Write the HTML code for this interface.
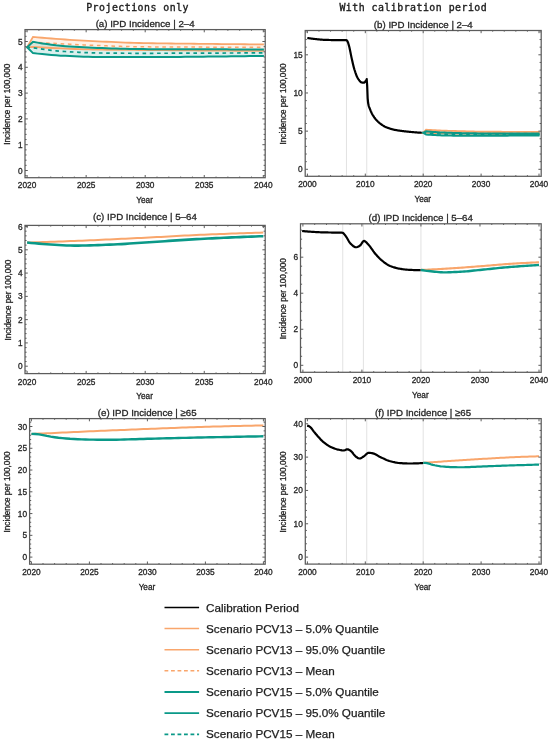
<!DOCTYPE html>
<html><head><meta charset="utf-8"><title>IPD Incidence</title>
<style>
html,body{margin:0;padding:0;background:#fff;}
body{width:550px;height:743px;overflow:hidden;}
svg{display:block;}
text{font-family:"Liberation Sans",sans-serif;fill:#262626;stroke:#262626;stroke-width:0.3px;}
.hd{font-family:"DejaVu Sans Mono","Liberation Mono",monospace;font-size:9.9px;letter-spacing:0.48px;fill:#1a1a1a;stroke:#1a1a1a;stroke-width:0.35px;}
.pt{font-size:9.7px;}
.tk{font-size:8.3px;}
.al{font-size:8.2px;}
.lg{font-size:11.7px;fill:#1c1c1c;stroke:#1c1c1c;stroke-width:0.25px;}
</style></head><body>
<svg width="550" height="743" viewBox="0 0 550 743">
<rect width="550" height="743" fill="#fff"/>
<text class="hd" x="137.6" y="11.4" text-anchor="middle">Projections only</text>
<text class="hd" x="413.3" y="11.4" text-anchor="middle">With calibration period</text>
<path d="M27.10,47.30L33.01,36.90L37.61,37.33L42.22,37.74L46.82,38.14L51.43,38.52L56.03,38.88L60.64,39.21L65.25,39.52L69.85,39.81L74.46,40.09L79.06,40.36L83.67,40.61L88.28,40.86L92.88,41.09L97.49,41.32L102.09,41.53L106.70,41.75L111.31,41.97L115.91,42.18L120.52,42.39L125.12,42.58L129.73,42.75L134.33,42.90L138.94,43.02L143.55,43.11L148.15,43.19L152.76,43.27L157.36,43.33L161.97,43.40L166.58,43.45L171.18,43.51L175.79,43.56L180.39,43.60L185.00,43.65L189.61,43.70L194.21,43.74L198.82,43.79L203.42,43.84L208.03,43.89L212.64,43.94L217.24,43.99L221.85,44.03L226.45,44.08L231.06,44.12L235.66,44.16L240.27,44.21L244.88,44.25L249.48,44.29L254.09,44.33L258.69,44.36L263.30,44.40L263.90,44.40L263.90,50.90L263.30,50.90L258.69,50.88L254.09,50.85L249.48,50.83L244.88,50.80L240.27,50.77L235.66,50.74L231.06,50.71L226.45,50.68L221.85,50.65L217.24,50.62L212.64,50.59L208.03,50.56L203.42,50.53L198.82,50.49L194.21,50.46L189.61,50.42L185.00,50.39L180.39,50.35L175.79,50.31L171.18,50.27L166.58,50.22L161.97,50.18L157.36,50.14L152.76,50.10L148.15,50.06L143.55,50.02L138.94,49.99L134.33,49.96L129.73,49.93L125.12,49.90L120.52,49.87L115.91,49.84L111.31,49.81L106.70,49.77L102.09,49.72L97.49,49.66L92.88,49.57L88.28,49.46L83.67,49.32L79.06,49.16L74.46,49.00L69.85,48.82L65.25,48.63L60.64,48.45L56.03,48.24L51.43,48.01L46.82,47.75L42.22,47.48L37.61,47.20L33.01,46.90L27.10,47.30Z" fill="#F9A66C" fill-opacity="0.16" stroke="none"/>
<path d="M27.10,47.30L33.01,41.80L37.61,42.61L42.22,43.39L46.82,44.11L51.43,44.76L56.03,45.33L60.64,45.79L65.25,46.16L69.85,46.49L74.46,46.78L79.06,47.05L83.67,47.29L88.28,47.51L92.88,47.71L97.49,47.89L102.09,48.07L106.70,48.23L111.31,48.40L115.91,48.56L120.52,48.71L125.12,48.84L129.73,48.95L134.33,49.03L138.94,49.09L143.55,49.12L148.15,49.14L152.76,49.17L157.36,49.18L161.97,49.20L166.58,49.22L171.18,49.23L175.79,49.24L180.39,49.25L185.00,49.26L189.61,49.27L194.21,49.29L198.82,49.30L203.42,49.31L208.03,49.32L212.64,49.34L217.24,49.35L221.85,49.36L226.45,49.37L231.06,49.38L235.66,49.39L240.27,49.40L244.88,49.41L249.48,49.42L254.09,49.43L258.69,49.44L263.30,49.45L263.90,49.45L263.90,55.90L263.30,55.90L258.69,55.97L254.09,56.04L249.48,56.11L244.88,56.17L240.27,56.24L235.66,56.30L231.06,56.36L226.45,56.42L221.85,56.47L217.24,56.52L212.64,56.57L208.03,56.62L203.42,56.66L198.82,56.71L194.21,56.75L189.61,56.79L185.00,56.83L180.39,56.88L175.79,56.92L171.18,56.96L166.58,56.99L161.97,57.02L157.36,57.05L152.76,57.07L148.15,57.09L143.55,57.10L138.94,57.10L134.33,57.10L129.73,57.09L125.12,57.08L120.52,57.07L115.91,57.06L111.31,57.05L106.70,57.03L102.09,57.01L97.49,56.98L92.88,56.91L88.28,56.80L83.67,56.66L79.06,56.49L74.46,56.30L69.85,56.09L65.25,55.86L60.64,55.63L56.03,55.34L51.43,54.98L46.82,54.57L42.22,54.11L37.61,53.62L33.01,53.10L27.10,47.30Z" fill="#0A9988" fill-opacity="0.15" stroke="none"/>
<path d="M263.90,50.90L263.30,50.90L258.69,50.88L254.09,50.85L249.48,50.83L244.88,50.80L240.27,50.77L235.66,50.74L231.06,50.71L226.45,50.68L221.85,50.65L217.24,50.62L212.64,50.59L208.03,50.56L203.42,50.53L198.82,50.49L194.21,50.46L189.61,50.42L185.00,50.39L180.39,50.35L175.79,50.31L171.18,50.27L166.58,50.22L161.97,50.18L157.36,50.14L152.76,50.10L148.15,50.06L143.55,50.02L138.94,49.99L134.33,49.96L129.73,49.93L125.12,49.90L120.52,49.87L115.91,49.84L111.31,49.81L106.70,49.77L102.09,49.72L97.49,49.66L92.88,49.57L88.28,49.46L83.67,49.32L79.06,49.16L74.46,49.00L69.85,48.82L65.25,48.63L60.64,48.45L56.03,48.24L51.43,48.01L46.82,47.75L42.22,47.48L37.61,47.20L33.01,46.90L27.10,47.30L27.10,47.30L33.01,36.90L37.61,37.33L42.22,37.74L46.82,38.14L51.43,38.52L56.03,38.88L60.64,39.21L65.25,39.52L69.85,39.81L74.46,40.09L79.06,40.36L83.67,40.61L88.28,40.86L92.88,41.09L97.49,41.32L102.09,41.53L106.70,41.75L111.31,41.97L115.91,42.18L120.52,42.39L125.12,42.58L129.73,42.75L134.33,42.90L138.94,43.02L143.55,43.11L148.15,43.19L152.76,43.27L157.36,43.33L161.97,43.40L166.58,43.45L171.18,43.51L175.79,43.56L180.39,43.60L185.00,43.65L189.61,43.70L194.21,43.74L198.82,43.79L203.42,43.84L208.03,43.89L212.64,43.94L217.24,43.99L221.85,44.03L226.45,44.08L231.06,44.12L235.66,44.16L240.27,44.21L244.88,44.25L249.48,44.29L254.09,44.33L258.69,44.36L263.30,44.40L263.90,44.40" fill="none" stroke="#F9A66C" stroke-width="1.8" stroke-linejoin="miter" stroke-miterlimit="6"/>
<path d="M27.10,47.30L33.01,42.20L37.61,42.47L42.22,42.73L46.82,42.99L51.43,43.25L56.03,43.49L60.64,43.73L65.25,43.97L69.85,44.20L74.46,44.44L79.06,44.67L83.67,44.89L88.28,45.10L92.88,45.31L97.49,45.49L102.09,45.67L106.70,45.84L111.31,46.01L115.91,46.18L120.52,46.34L125.12,46.49L129.73,46.61L134.33,46.71L138.94,46.78L143.55,46.83L148.15,46.86L152.76,46.90L157.36,46.92L161.97,46.95L166.58,46.97L171.18,46.99L175.79,47.01L180.39,47.03L185.00,47.05L189.61,47.06L194.21,47.08L198.82,47.10L203.42,47.12L208.03,47.13L212.64,47.15L217.24,47.17L221.85,47.18L226.45,47.20L231.06,47.21L235.66,47.23L240.27,47.24L244.88,47.25L249.48,47.27L254.09,47.28L258.69,47.29L263.30,47.30L263.90,47.30" fill="none" stroke="#F9A66C" stroke-width="1.50" stroke-dasharray="3.6 3.67" stroke-dashoffset="0.9" stroke-linejoin="round"/>
<path d="M263.90,55.90L263.30,55.90L258.69,55.97L254.09,56.04L249.48,56.11L244.88,56.17L240.27,56.24L235.66,56.30L231.06,56.36L226.45,56.42L221.85,56.47L217.24,56.52L212.64,56.57L208.03,56.62L203.42,56.66L198.82,56.71L194.21,56.75L189.61,56.79L185.00,56.83L180.39,56.88L175.79,56.92L171.18,56.96L166.58,56.99L161.97,57.02L157.36,57.05L152.76,57.07L148.15,57.09L143.55,57.10L138.94,57.10L134.33,57.10L129.73,57.09L125.12,57.08L120.52,57.07L115.91,57.06L111.31,57.05L106.70,57.03L102.09,57.01L97.49,56.98L92.88,56.91L88.28,56.80L83.67,56.66L79.06,56.49L74.46,56.30L69.85,56.09L65.25,55.86L60.64,55.63L56.03,55.34L51.43,54.98L46.82,54.57L42.22,54.11L37.61,53.62L33.01,53.10L27.10,47.30L27.10,47.30L33.01,41.80L37.61,42.61L42.22,43.39L46.82,44.11L51.43,44.76L56.03,45.33L60.64,45.79L65.25,46.16L69.85,46.49L74.46,46.78L79.06,47.05L83.67,47.29L88.28,47.51L92.88,47.71L97.49,47.89L102.09,48.07L106.70,48.23L111.31,48.40L115.91,48.56L120.52,48.71L125.12,48.84L129.73,48.95L134.33,49.03L138.94,49.09L143.55,49.12L148.15,49.14L152.76,49.17L157.36,49.18L161.97,49.20L166.58,49.22L171.18,49.23L175.79,49.24L180.39,49.25L185.00,49.26L189.61,49.27L194.21,49.29L198.82,49.30L203.42,49.31L208.03,49.32L212.64,49.34L217.24,49.35L221.85,49.36L226.45,49.37L231.06,49.38L235.66,49.39L240.27,49.40L244.88,49.41L249.48,49.42L254.09,49.43L258.69,49.44L263.30,49.45L263.90,49.45" fill="none" stroke="#0A9988" stroke-width="2.0" stroke-linejoin="miter" stroke-miterlimit="6"/>
<path d="M27.10,47.30L33.01,47.70L37.61,48.42L42.22,49.11L46.82,49.75L51.43,50.32L56.03,50.81L60.64,51.21L65.25,51.52L69.85,51.80L74.46,52.07L79.06,52.31L83.67,52.52L88.28,52.70L92.88,52.85L97.49,52.96L102.09,53.02L106.70,53.08L111.31,53.13L115.91,53.18L120.52,53.22L125.12,53.25L129.73,53.27L134.33,53.29L138.94,53.30L143.55,53.30L148.15,53.29L152.76,53.28L157.36,53.27L161.97,53.26L166.58,53.24L171.18,53.22L175.79,53.20L180.39,53.18L185.00,53.16L189.61,53.14L194.21,53.12L198.82,53.10L203.42,53.09L208.03,53.07L212.64,53.06L217.24,53.04L221.85,53.03L226.45,53.01L231.06,53.00L235.66,52.98L240.27,52.97L244.88,52.96L249.48,52.94L254.09,52.93L258.69,52.91L263.30,52.90L263.90,52.90" fill="none" stroke="#0A9988" stroke-width="1.70" stroke-dasharray="3.6 3.67" stroke-dashoffset="0.6" stroke-linejoin="round"/>
<path d="M27.10,177.70v-2.7M27.10,29.60v2.7M38.91,177.70v-1.15M38.91,29.60v1.15M50.72,177.70v-1.15M50.72,29.60v1.15M62.53,177.70v-1.15M62.53,29.60v1.15M74.34,177.70v-1.15M74.34,29.60v1.15M86.15,177.70v-2.7M86.15,29.60v2.7M97.96,177.70v-1.15M97.96,29.60v1.15M109.77,177.70v-1.15M109.77,29.60v1.15M121.58,177.70v-1.15M121.58,29.60v1.15M133.39,177.70v-1.15M133.39,29.60v1.15M145.20,177.70v-2.7M145.20,29.60v2.7M157.01,177.70v-1.15M157.01,29.60v1.15M168.82,177.70v-1.15M168.82,29.60v1.15M180.63,177.70v-1.15M180.63,29.60v1.15M192.44,177.70v-1.15M192.44,29.60v1.15M204.25,177.70v-2.7M204.25,29.60v2.7M216.06,177.70v-1.15M216.06,29.60v1.15M227.87,177.70v-1.15M227.87,29.60v1.15M239.68,177.70v-1.15M239.68,29.60v1.15M251.49,177.70v-1.15M251.49,29.60v1.15M263.30,177.70v-2.7M263.30,29.60v2.7M25.00,175.66h1.6M265.20,175.66h-1.6M25.00,170.50h2.8M265.20,170.50h-2.8M25.00,165.34h1.6M265.20,165.34h-1.6M25.00,160.18h1.6M265.20,160.18h-1.6M25.00,155.02h1.6M265.20,155.02h-1.6M25.00,149.86h1.6M265.20,149.86h-1.6M25.00,144.70h2.8M265.20,144.70h-2.8M25.00,139.54h1.6M265.20,139.54h-1.6M25.00,134.38h1.6M265.20,134.38h-1.6M25.00,129.22h1.6M265.20,129.22h-1.6M25.00,124.06h1.6M265.20,124.06h-1.6M25.00,118.90h2.8M265.20,118.90h-2.8M25.00,113.74h1.6M265.20,113.74h-1.6M25.00,108.58h1.6M265.20,108.58h-1.6M25.00,103.42h1.6M265.20,103.42h-1.6M25.00,98.26h1.6M265.20,98.26h-1.6M25.00,93.10h2.8M265.20,93.10h-2.8M25.00,87.94h1.6M265.20,87.94h-1.6M25.00,82.78h1.6M265.20,82.78h-1.6M25.00,77.62h1.6M265.20,77.62h-1.6M25.00,72.46h1.6M265.20,72.46h-1.6M25.00,67.30h2.8M265.20,67.30h-2.8M25.00,62.14h1.6M265.20,62.14h-1.6M25.00,56.98h1.6M265.20,56.98h-1.6M25.00,51.82h1.6M265.20,51.82h-1.6M25.00,46.66h1.6M265.20,46.66h-1.6M25.00,41.50h2.8M265.20,41.50h-2.8M25.00,36.34h1.6M265.20,36.34h-1.6M25.00,31.18h1.6M265.20,31.18h-1.6" stroke="#5c5c5c" stroke-width="1.0" fill="none"/>
<rect x="25.00" y="29.60" width="240.20" height="148.10" fill="none" stroke="#5c5c5c" stroke-width="1.25"/>
<text class="tk" x="27.10" y="188.10" text-anchor="middle">2020</text>
<text class="tk" x="86.15" y="188.10" text-anchor="middle">2025</text>
<text class="tk" x="145.20" y="188.10" text-anchor="middle">2030</text>
<text class="tk" x="204.25" y="188.10" text-anchor="middle">2035</text>
<text class="tk" x="263.30" y="188.10" text-anchor="middle">2040</text>
<text class="tk" x="22.50" y="173.50" text-anchor="end">0</text>
<text class="tk" x="22.50" y="147.70" text-anchor="end">1</text>
<text class="tk" x="22.50" y="121.90" text-anchor="end">2</text>
<text class="tk" x="22.50" y="96.10" text-anchor="end">3</text>
<text class="tk" x="22.50" y="70.30" text-anchor="end">4</text>
<text class="tk" x="22.50" y="44.50" text-anchor="end">5</text>
<text class="al" transform="translate(9.50,104.25) rotate(-90)" text-anchor="middle">Incidence per 100,000</text>
<text class="al" x="144.60" y="203.30" text-anchor="middle">Year</text>
<text class="pt" x="145.10" y="26.60" text-anchor="middle">(a) IPD Incidence | 2–4</text>
<path d="M346.48,30.50V176.30" stroke="#dadada" stroke-width="0.8" fill="none"/>
<path d="M366.75,30.50V176.30" stroke="#dadada" stroke-width="0.8" fill="none"/>
<path d="M423.20,30.50V176.30" stroke="#dadada" stroke-width="0.8" fill="none"/>
<path d="M307.30,38.00L307.80,38.07L308.29,38.14L308.79,38.21L309.28,38.28L309.78,38.35L310.27,38.42L310.76,38.49L311.26,38.55L311.75,38.62L312.25,38.68L312.75,38.74L313.24,38.80L313.74,38.86L314.23,38.91L314.73,38.97L315.22,39.02L315.72,39.08L316.21,39.13L316.70,39.19L317.20,39.25L317.69,39.30L318.19,39.35L318.69,39.41L319.18,39.46L319.68,39.51L320.17,39.56L320.67,39.60L321.16,39.64L321.66,39.68L322.15,39.72L322.64,39.75L323.14,39.78L323.63,39.80L324.13,39.82L324.62,39.84L325.12,39.86L325.62,39.88L326.11,39.90L326.61,39.91L327.10,39.93L327.60,39.94L328.09,39.96L328.58,39.97L329.08,39.99L329.57,40.00L330.07,40.01L330.56,40.02L331.06,40.03L331.56,40.04L332.05,40.05L332.55,40.06L333.04,40.07L333.54,40.08L334.03,40.09L334.52,40.09L335.02,40.10L335.51,40.11L336.01,40.11L336.50,40.12L337.00,40.12L337.50,40.12L337.99,40.12L338.49,40.13L338.98,40.13L339.48,40.13L339.97,40.13L340.47,40.13L340.96,40.14L341.45,40.14L341.95,40.14L342.44,40.14L342.94,40.15L343.44,40.15L343.93,40.16L344.43,40.16L344.92,40.17L345.42,40.18L345.91,40.19L346.40,40.20L346.90,40.52L347.39,41.19L347.89,42.20L348.38,43.69L348.88,45.41L349.38,47.25L349.87,49.43L350.37,51.85L350.86,54.38L351.36,56.85L351.85,59.12L352.35,61.29L352.84,63.45L353.33,65.54L353.83,67.49L354.32,69.24L354.82,70.78L355.31,72.27L355.81,73.68L356.31,75.01L356.80,76.23L357.30,77.32L357.79,78.25L358.28,79.02L358.78,79.72L359.27,80.40L359.77,81.03L360.26,81.59L360.76,82.03L361.25,82.35L361.75,82.49L362.25,82.53L362.74,82.56L363.24,82.59L363.73,82.60L364.23,82.56L364.72,82.22L365.21,81.68L365.71,81.05L366.20,80.19L366.70,79.10L366.70,79.10L367.17,85.83L367.64,98.06L368.12,103.05L368.59,105.32L369.06,106.84L369.53,107.97L370.01,109.12L370.48,110.34L370.95,111.47L371.43,112.52L371.90,113.48L372.37,114.37L372.84,115.20L373.31,115.97L373.79,116.68L374.26,117.36L374.73,118.00L375.20,118.62L375.68,119.22L376.15,119.78L376.62,120.32L377.09,120.82L377.57,121.31L378.04,121.77L378.51,122.20L378.99,122.60L379.46,122.99L379.93,123.37L380.40,123.73L380.88,124.09L381.35,124.43L381.82,124.76L382.29,125.08L382.76,125.39L383.24,125.68L383.71,125.96L384.18,126.23L384.65,126.49L385.13,126.73L385.60,126.95L386.07,127.16L386.54,127.36L387.02,127.55L387.49,127.73L387.96,127.91L388.44,128.08L388.91,128.24L389.38,128.40L389.85,128.56L390.32,128.71L390.80,128.85L391.27,128.99L391.74,129.12L392.21,129.25L392.69,129.37L393.16,129.49L393.63,129.60L394.10,129.71L394.58,129.81L395.05,129.91L395.52,130.00L396.00,130.09L396.47,130.18L396.94,130.26L397.41,130.34L397.88,130.42L398.36,130.50L398.83,130.57L399.30,130.64L399.77,130.70L400.25,130.77L400.72,130.83L401.19,130.90L401.66,130.96L402.14,131.02L402.61,131.07L403.08,131.13L403.56,131.19L404.03,131.24L404.50,131.30L404.97,131.35L405.44,131.41L405.92,131.46L406.39,131.51L406.86,131.56L407.33,131.61L407.81,131.66L408.28,131.71L408.75,131.76L409.22,131.81L409.70,131.85L410.17,131.90L410.64,131.94L411.12,131.98L411.59,132.03L412.06,132.07L412.53,132.11L413.00,132.15L413.48,132.19L413.95,132.23L414.42,132.27L414.89,132.31L415.37,132.34L415.84,132.38L416.31,132.42L416.78,132.45L417.26,132.49L417.73,132.53L418.20,132.56L418.67,132.59L419.15,132.63L419.62,132.66L420.09,132.69L420.56,132.72L421.04,132.76L421.51,132.79L421.98,132.82L422.45,132.84L422.93,132.87L423.40,132.90" fill="none" stroke="#000" stroke-width="2.2" stroke-linejoin="round"/>
<path d="M423.20,132.85L426.09,129.77L428.35,129.90L430.61,130.02L432.87,130.14L435.13,130.25L437.39,130.36L439.64,130.46L441.90,130.55L444.16,130.64L446.42,130.72L448.68,130.80L450.93,130.87L453.19,130.95L455.45,131.01L457.71,131.08L459.97,131.14L462.22,131.21L464.48,131.27L466.74,131.34L469.00,131.40L471.26,131.45L473.52,131.51L475.77,131.55L478.03,131.58L480.29,131.61L482.55,131.64L484.81,131.66L487.06,131.68L489.32,131.70L491.58,131.71L493.84,131.73L496.10,131.74L498.35,131.76L500.61,131.77L502.87,131.78L505.13,131.80L507.39,131.81L509.64,131.83L511.90,131.84L514.16,131.86L516.42,131.87L518.68,131.88L520.94,131.90L523.19,131.91L525.45,131.92L527.71,131.94L529.97,131.95L532.23,131.96L534.48,131.97L536.74,131.98L539.00,131.99L539.60,131.99L539.60,133.92L539.00,133.92L536.74,133.91L534.48,133.90L532.23,133.89L529.97,133.89L527.71,133.88L525.45,133.87L523.19,133.86L520.94,133.85L518.68,133.84L516.42,133.83L514.16,133.83L511.90,133.82L509.64,133.81L507.39,133.80L505.13,133.79L502.87,133.78L500.61,133.76L498.35,133.75L496.10,133.74L493.84,133.73L491.58,133.72L489.32,133.70L487.06,133.69L484.81,133.68L482.55,133.67L480.29,133.66L478.03,133.65L475.77,133.64L473.52,133.63L471.26,133.62L469.00,133.61L466.74,133.60L464.48,133.59L462.22,133.58L459.97,133.57L457.71,133.55L455.45,133.52L453.19,133.49L450.93,133.45L448.68,133.40L446.42,133.35L444.16,133.30L441.90,133.25L439.64,133.19L437.39,133.13L435.13,133.06L432.87,132.99L430.61,132.91L428.35,132.82L426.09,132.73L423.20,132.85Z" fill="#F9A66C" fill-opacity="0.16" stroke="none"/>
<path d="M423.20,132.85L426.09,131.22L428.35,131.46L430.61,131.69L432.87,131.91L435.13,132.10L437.39,132.27L439.64,132.40L441.90,132.51L444.16,132.61L446.42,132.70L448.68,132.78L450.93,132.85L453.19,132.91L455.45,132.97L457.71,133.03L459.97,133.08L462.22,133.13L464.48,133.18L466.74,133.22L469.00,133.27L471.26,133.31L473.52,133.34L475.77,133.36L478.03,133.38L480.29,133.39L482.55,133.40L484.81,133.40L487.06,133.41L489.32,133.41L491.58,133.42L493.84,133.42L496.10,133.43L498.35,133.43L500.61,133.43L502.87,133.44L505.13,133.44L507.39,133.44L509.64,133.45L511.90,133.45L514.16,133.45L516.42,133.46L518.68,133.46L520.94,133.46L523.19,133.47L525.45,133.47L527.71,133.47L529.97,133.48L532.23,133.48L534.48,133.48L536.74,133.48L539.00,133.49L539.60,133.49L539.60,135.40L539.00,135.40L536.74,135.42L534.48,135.44L532.23,135.46L529.97,135.48L527.71,135.50L525.45,135.51L523.19,135.53L520.94,135.55L518.68,135.56L516.42,135.58L514.16,135.59L511.90,135.61L509.64,135.62L507.39,135.63L505.13,135.65L502.87,135.66L500.61,135.67L498.35,135.68L496.10,135.70L493.84,135.71L491.58,135.72L489.32,135.73L487.06,135.74L484.81,135.74L482.55,135.75L480.29,135.75L478.03,135.75L475.77,135.75L473.52,135.75L471.26,135.75L469.00,135.74L466.74,135.74L464.48,135.73L462.22,135.73L459.97,135.72L457.71,135.71L455.45,135.69L453.19,135.66L450.93,135.62L448.68,135.57L446.42,135.51L444.16,135.45L441.90,135.38L439.64,135.32L437.39,135.23L435.13,135.12L432.87,135.00L430.61,134.87L428.35,134.72L426.09,134.57L423.20,132.85Z" fill="#0A9988" fill-opacity="0.15" stroke="none"/>
<path d="M539.60,133.92L539.00,133.92L536.74,133.91L534.48,133.90L532.23,133.89L529.97,133.89L527.71,133.88L525.45,133.87L523.19,133.86L520.94,133.85L518.68,133.84L516.42,133.83L514.16,133.83L511.90,133.82L509.64,133.81L507.39,133.80L505.13,133.79L502.87,133.78L500.61,133.76L498.35,133.75L496.10,133.74L493.84,133.73L491.58,133.72L489.32,133.70L487.06,133.69L484.81,133.68L482.55,133.67L480.29,133.66L478.03,133.65L475.77,133.64L473.52,133.63L471.26,133.62L469.00,133.61L466.74,133.60L464.48,133.59L462.22,133.58L459.97,133.57L457.71,133.55L455.45,133.52L453.19,133.49L450.93,133.45L448.68,133.40L446.42,133.35L444.16,133.30L441.90,133.25L439.64,133.19L437.39,133.13L435.13,133.06L432.87,132.99L430.61,132.91L428.35,132.82L426.09,132.73L423.20,132.85L423.20,132.85L426.09,129.77L428.35,129.90L430.61,130.02L432.87,130.14L435.13,130.25L437.39,130.36L439.64,130.46L441.90,130.55L444.16,130.64L446.42,130.72L448.68,130.80L450.93,130.87L453.19,130.95L455.45,131.01L457.71,131.08L459.97,131.14L462.22,131.21L464.48,131.27L466.74,131.34L469.00,131.40L471.26,131.45L473.52,131.51L475.77,131.55L478.03,131.58L480.29,131.61L482.55,131.64L484.81,131.66L487.06,131.68L489.32,131.70L491.58,131.71L493.84,131.73L496.10,131.74L498.35,131.76L500.61,131.77L502.87,131.78L505.13,131.80L507.39,131.81L509.64,131.83L511.90,131.84L514.16,131.86L516.42,131.87L518.68,131.88L520.94,131.90L523.19,131.91L525.45,131.92L527.71,131.94L529.97,131.95L532.23,131.96L534.48,131.97L536.74,131.98L539.00,131.99L539.60,131.99" fill="none" stroke="#F9A66C" stroke-width="1.8" stroke-linejoin="miter" stroke-miterlimit="6"/>
<path d="M423.20,132.85L426.09,131.34L428.35,131.42L430.61,131.50L432.87,131.58L435.13,131.65L437.39,131.72L439.64,131.80L441.90,131.87L444.16,131.94L446.42,132.00L448.68,132.07L450.93,132.14L453.19,132.20L455.45,132.26L457.71,132.32L459.97,132.37L462.22,132.42L464.48,132.47L466.74,132.52L469.00,132.57L471.26,132.61L473.52,132.65L475.77,132.68L478.03,132.70L480.29,132.71L482.55,132.72L484.81,132.73L487.06,132.74L489.32,132.75L491.58,132.75L493.84,132.76L496.10,132.77L498.35,132.77L500.61,132.78L502.87,132.78L505.13,132.79L507.39,132.79L509.64,132.80L511.90,132.80L514.16,132.81L516.42,132.81L518.68,132.82L520.94,132.82L523.19,132.83L525.45,132.83L527.71,132.83L529.97,132.84L532.23,132.84L534.48,132.84L536.74,132.85L539.00,132.85L539.60,132.85" fill="none" stroke="#F9A66C" stroke-width="1.50" stroke-dasharray="3.6 3.67" stroke-dashoffset="0.9" stroke-linejoin="round"/>
<path d="M539.60,135.40L539.00,135.40L536.74,135.42L534.48,135.44L532.23,135.46L529.97,135.48L527.71,135.50L525.45,135.51L523.19,135.53L520.94,135.55L518.68,135.56L516.42,135.58L514.16,135.59L511.90,135.61L509.64,135.62L507.39,135.63L505.13,135.65L502.87,135.66L500.61,135.67L498.35,135.68L496.10,135.70L493.84,135.71L491.58,135.72L489.32,135.73L487.06,135.74L484.81,135.74L482.55,135.75L480.29,135.75L478.03,135.75L475.77,135.75L473.52,135.75L471.26,135.75L469.00,135.74L466.74,135.74L464.48,135.73L462.22,135.73L459.97,135.72L457.71,135.71L455.45,135.69L453.19,135.66L450.93,135.62L448.68,135.57L446.42,135.51L444.16,135.45L441.90,135.38L439.64,135.32L437.39,135.23L435.13,135.12L432.87,135.00L430.61,134.87L428.35,134.72L426.09,134.57L423.20,132.85L423.20,132.85L426.09,131.22L428.35,131.46L430.61,131.69L432.87,131.91L435.13,132.10L437.39,132.27L439.64,132.40L441.90,132.51L444.16,132.61L446.42,132.70L448.68,132.78L450.93,132.85L453.19,132.91L455.45,132.97L457.71,133.03L459.97,133.08L462.22,133.13L464.48,133.18L466.74,133.22L469.00,133.27L471.26,133.31L473.52,133.34L475.77,133.36L478.03,133.38L480.29,133.39L482.55,133.40L484.81,133.40L487.06,133.41L489.32,133.41L491.58,133.42L493.84,133.42L496.10,133.43L498.35,133.43L500.61,133.43L502.87,133.44L505.13,133.44L507.39,133.44L509.64,133.45L511.90,133.45L514.16,133.45L516.42,133.46L518.68,133.46L520.94,133.46L523.19,133.47L525.45,133.47L527.71,133.47L529.97,133.48L532.23,133.48L534.48,133.48L536.74,133.48L539.00,133.49L539.60,133.49" fill="none" stroke="#0A9988" stroke-width="2.0" stroke-linejoin="miter" stroke-miterlimit="6"/>
<path d="M423.20,132.85L426.09,132.97L428.35,133.18L430.61,133.39L432.87,133.58L435.13,133.74L437.39,133.89L439.64,134.01L441.90,134.10L444.16,134.18L446.42,134.26L448.68,134.33L450.93,134.40L453.19,134.45L455.45,134.49L457.71,134.52L459.97,134.54L462.22,134.56L464.48,134.58L466.74,134.59L469.00,134.60L471.26,134.61L473.52,134.62L475.77,134.62L478.03,134.63L480.29,134.63L482.55,134.62L484.81,134.62L487.06,134.62L489.32,134.61L491.58,134.61L493.84,134.60L496.10,134.60L498.35,134.59L500.61,134.58L502.87,134.58L505.13,134.57L507.39,134.57L509.64,134.56L511.90,134.56L514.16,134.55L516.42,134.55L518.68,134.55L520.94,134.54L523.19,134.54L525.45,134.53L527.71,134.53L529.97,134.52L532.23,134.52L534.48,134.52L536.74,134.51L539.00,134.51L539.60,134.51" fill="none" stroke="#0A9988" stroke-width="1.70" stroke-dasharray="3.6 3.67" stroke-dashoffset="0.6" stroke-linejoin="round"/>
<path d="M307.40,176.30v-2.7M307.40,30.50v2.7M318.98,176.30v-1.15M318.98,30.50v1.15M330.56,176.30v-1.15M330.56,30.50v1.15M342.14,176.30v-1.15M342.14,30.50v1.15M353.72,176.30v-1.15M353.72,30.50v1.15M365.30,176.30v-2.7M365.30,30.50v2.7M376.88,176.30v-1.15M376.88,30.50v1.15M388.46,176.30v-1.15M388.46,30.50v1.15M400.04,176.30v-1.15M400.04,30.50v1.15M411.62,176.30v-1.15M411.62,30.50v1.15M423.20,176.30v-2.7M423.20,30.50v2.7M434.78,176.30v-1.15M434.78,30.50v1.15M446.36,176.30v-1.15M446.36,30.50v1.15M457.94,176.30v-1.15M457.94,30.50v1.15M469.52,176.30v-1.15M469.52,30.50v1.15M481.10,176.30v-2.7M481.10,30.50v2.7M492.68,176.30v-1.15M492.68,30.50v1.15M504.26,176.30v-1.15M504.26,30.50v1.15M515.84,176.30v-1.15M515.84,30.50v1.15M527.42,176.30v-1.15M527.42,30.50v1.15M539.00,176.30v-2.7M539.00,30.50v2.7M305.20,169.30h2.8M541.20,169.30h-2.8M305.20,161.67h1.6M541.20,161.67h-1.6M305.20,154.03h1.6M541.20,154.03h-1.6M305.20,146.40h1.6M541.20,146.40h-1.6M305.20,138.77h1.6M541.20,138.77h-1.6M305.20,131.14h2.8M541.20,131.14h-2.8M305.20,123.50h1.6M541.20,123.50h-1.6M305.20,115.87h1.6M541.20,115.87h-1.6M305.20,108.24h1.6M541.20,108.24h-1.6M305.20,100.60h1.6M541.20,100.60h-1.6M305.20,92.97h2.8M541.20,92.97h-2.8M305.20,85.34h1.6M541.20,85.34h-1.6M305.20,77.70h1.6M541.20,77.70h-1.6M305.20,70.07h1.6M541.20,70.07h-1.6M305.20,62.44h1.6M541.20,62.44h-1.6M305.20,54.81h2.8M541.20,54.81h-2.8M305.20,47.17h1.6M541.20,47.17h-1.6M305.20,39.54h1.6M541.20,39.54h-1.6M305.20,31.91h1.6M541.20,31.91h-1.6" stroke="#5c5c5c" stroke-width="1.0" fill="none"/>
<rect x="305.20" y="30.50" width="236.00" height="145.80" fill="none" stroke="#5c5c5c" stroke-width="1.25"/>
<text class="tk" x="307.40" y="186.70" text-anchor="middle">2000</text>
<text class="tk" x="365.30" y="186.70" text-anchor="middle">2010</text>
<text class="tk" x="423.20" y="186.70" text-anchor="middle">2020</text>
<text class="tk" x="481.10" y="186.70" text-anchor="middle">2030</text>
<text class="tk" x="539.00" y="186.70" text-anchor="middle">2040</text>
<text class="tk" x="302.70" y="172.30" text-anchor="end">0</text>
<text class="tk" x="302.70" y="134.14" text-anchor="end">5</text>
<text class="tk" x="302.70" y="95.97" text-anchor="end">10</text>
<text class="tk" x="302.70" y="57.81" text-anchor="end">15</text>
<text class="al" transform="translate(285.50,104.00) rotate(-90)" text-anchor="middle">Incidence per 100,000</text>
<text class="al" x="422.70" y="202.00" text-anchor="middle">Year</text>
<text class="pt" x="423.30" y="27.50" text-anchor="middle">(b) IPD Incidence | 2–4</text>
<path d="M27.10,242.58L31.04,242.46L34.97,242.33L38.91,242.21L42.85,242.07L46.78,241.94L50.72,241.80L54.66,241.67L58.59,241.53L62.53,241.39L66.47,241.25L70.40,241.10L74.34,240.95L78.28,240.80L82.21,240.65L86.15,240.49L90.09,240.32L94.02,240.15L97.96,239.98L101.90,239.80L105.83,239.62L109.77,239.44L113.71,239.25L117.64,239.06L121.58,238.87L125.52,238.68L129.45,238.48L133.39,238.28L137.33,238.09L141.26,237.89L145.20,237.70L149.14,237.50L153.07,237.30L157.01,237.10L160.95,236.89L164.88,236.68L168.82,236.47L172.76,236.25L176.69,236.04L180.63,235.82L184.57,235.61L188.50,235.41L192.44,235.21L196.38,235.02L200.31,234.84L204.25,234.67L208.19,234.50L212.12,234.34L216.06,234.18L220.00,234.03L223.93,233.88L227.87,233.73L231.81,233.58L235.74,233.44L239.68,233.30L243.62,233.17L247.55,233.04L251.49,232.92L255.43,232.80L259.36,232.68L263.30,232.57" fill="none" stroke="#F9A66C" stroke-width="2.0" stroke-linejoin="round"/>
<path d="M27.10,242.58L31.04,242.95L34.97,243.31L38.91,243.63L42.85,243.93L46.78,244.20L50.72,244.48L54.66,244.76L58.59,245.03L62.53,245.26L66.47,245.44L70.40,245.57L74.34,245.61L78.28,245.59L82.21,245.54L86.15,245.47L90.09,245.37L94.02,245.25L97.96,245.11L101.90,244.96L105.83,244.80L109.77,244.64L113.71,244.48L117.64,244.30L121.58,244.08L125.52,243.84L129.45,243.57L133.39,243.29L137.33,243.02L141.26,242.77L145.20,242.51L149.14,242.25L153.07,241.99L157.01,241.73L160.95,241.46L164.88,241.19L168.82,240.92L172.76,240.66L176.69,240.40L180.63,240.14L184.57,239.89L188.50,239.64L192.44,239.40L196.38,239.17L200.31,238.95L204.25,238.74L208.19,238.54L212.12,238.34L216.06,238.15L220.00,237.96L223.93,237.77L227.87,237.59L231.81,237.42L235.74,237.24L239.68,237.08L243.62,236.91L247.55,236.76L251.49,236.60L255.43,236.46L259.36,236.32L263.30,236.18" fill="none" stroke="#0A9988" stroke-width="2.6" stroke-linejoin="round"/>
<path d="M27.10,373.60v-2.7M27.10,225.40v2.7M38.91,373.60v-1.15M38.91,225.40v1.15M50.72,373.60v-1.15M50.72,225.40v1.15M62.53,373.60v-1.15M62.53,225.40v1.15M74.34,373.60v-1.15M74.34,225.40v1.15M86.15,373.60v-2.7M86.15,225.40v2.7M97.96,373.60v-1.15M97.96,225.40v1.15M109.77,373.60v-1.15M109.77,225.40v1.15M121.58,373.60v-1.15M121.58,225.40v1.15M133.39,373.60v-1.15M133.39,225.40v1.15M145.20,373.60v-2.7M145.20,225.40v2.7M157.01,373.60v-1.15M157.01,225.40v1.15M168.82,373.60v-1.15M168.82,225.40v1.15M180.63,373.60v-1.15M180.63,225.40v1.15M192.44,373.60v-1.15M192.44,225.40v1.15M204.25,373.60v-2.7M204.25,225.40v2.7M216.06,373.60v-1.15M216.06,225.40v1.15M227.87,373.60v-1.15M227.87,225.40v1.15M239.68,373.60v-1.15M239.68,225.40v1.15M251.49,373.60v-1.15M251.49,225.40v1.15M263.30,373.60v-2.7M263.30,225.40v2.7M25.00,370.86h1.6M265.20,370.86h-1.6M25.00,366.20h2.8M265.20,366.20h-2.8M25.00,361.54h1.6M265.20,361.54h-1.6M25.00,356.89h1.6M265.20,356.89h-1.6M25.00,352.23h1.6M265.20,352.23h-1.6M25.00,347.58h1.6M265.20,347.58h-1.6M25.00,342.92h2.8M265.20,342.92h-2.8M25.00,338.26h1.6M265.20,338.26h-1.6M25.00,333.61h1.6M265.20,333.61h-1.6M25.00,328.95h1.6M265.20,328.95h-1.6M25.00,324.30h1.6M265.20,324.30h-1.6M25.00,319.64h2.8M265.20,319.64h-2.8M25.00,314.98h1.6M265.20,314.98h-1.6M25.00,310.33h1.6M265.20,310.33h-1.6M25.00,305.67h1.6M265.20,305.67h-1.6M25.00,301.02h1.6M265.20,301.02h-1.6M25.00,296.36h2.8M265.20,296.36h-2.8M25.00,291.70h1.6M265.20,291.70h-1.6M25.00,287.05h1.6M265.20,287.05h-1.6M25.00,282.39h1.6M265.20,282.39h-1.6M25.00,277.74h1.6M265.20,277.74h-1.6M25.00,273.08h2.8M265.20,273.08h-2.8M25.00,268.42h1.6M265.20,268.42h-1.6M25.00,263.77h1.6M265.20,263.77h-1.6M25.00,259.11h1.6M265.20,259.11h-1.6M25.00,254.46h1.6M265.20,254.46h-1.6M25.00,249.80h2.8M265.20,249.80h-2.8M25.00,245.14h1.6M265.20,245.14h-1.6M25.00,240.49h1.6M265.20,240.49h-1.6M25.00,235.83h1.6M265.20,235.83h-1.6M25.00,231.18h1.6M265.20,231.18h-1.6M25.00,226.52h2.8M265.20,226.52h-2.8" stroke="#5c5c5c" stroke-width="1.0" fill="none"/>
<rect x="25.00" y="225.40" width="240.20" height="148.20" fill="none" stroke="#5c5c5c" stroke-width="1.25"/>
<text class="tk" x="27.10" y="384.50" text-anchor="middle">2020</text>
<text class="tk" x="86.15" y="384.50" text-anchor="middle">2025</text>
<text class="tk" x="145.20" y="384.50" text-anchor="middle">2030</text>
<text class="tk" x="204.25" y="384.50" text-anchor="middle">2035</text>
<text class="tk" x="263.30" y="384.50" text-anchor="middle">2040</text>
<text class="tk" x="22.50" y="369.20" text-anchor="end">0</text>
<text class="tk" x="22.50" y="345.92" text-anchor="end">1</text>
<text class="tk" x="22.50" y="322.64" text-anchor="end">2</text>
<text class="tk" x="22.50" y="299.36" text-anchor="end">3</text>
<text class="tk" x="22.50" y="276.08" text-anchor="end">4</text>
<text class="tk" x="22.50" y="252.80" text-anchor="end">5</text>
<text class="tk" x="22.50" y="229.52" text-anchor="end">6</text>
<text class="al" transform="translate(10.50,300.10) rotate(-90)" text-anchor="middle">Incidence per 100,000</text>
<text class="al" x="144.60" y="399.30" text-anchor="middle">Year</text>
<text class="pt" x="144.90" y="219.90" text-anchor="middle">(c) IPD Incidence | 5–64</text>
<path d="M342.74,223.80V372.30" stroke="#dadada" stroke-width="0.8" fill="none"/>
<path d="M363.40,223.80V372.30" stroke="#dadada" stroke-width="0.8" fill="none"/>
<path d="M420.95,223.80V372.30" stroke="#dadada" stroke-width="0.8" fill="none"/>
<path d="M302.10,231.00L303.09,231.10L304.08,231.20L305.06,231.29L306.05,231.38L307.04,231.47L308.03,231.55L309.02,231.63L310.01,231.70L311.00,231.77L311.98,231.84L312.97,231.90L313.96,231.97L314.95,232.02L315.94,232.08L316.93,232.13L317.91,232.17L318.90,232.21L319.89,232.25L320.88,232.28L321.87,232.31L322.86,232.34L323.84,232.36L324.83,232.39L325.82,232.41L326.81,232.43L327.80,232.45L328.79,232.48L329.77,232.50L330.76,232.51L331.75,232.53L332.74,232.54L333.73,232.55L334.72,232.56L335.70,232.57L336.69,232.58L337.68,232.59L338.67,232.60L339.66,232.62L340.64,232.65L341.63,232.68L342.62,232.76L343.61,233.45L344.60,234.63L345.59,235.94L346.57,237.28L347.56,238.96L348.55,240.74L349.54,242.38L350.53,243.63L351.52,244.57L352.50,245.48L353.49,246.28L354.48,246.90L355.47,247.25L356.46,247.27L357.45,247.00L358.44,246.54L359.42,245.96L360.41,245.25L361.40,243.91L362.39,242.33L363.38,241.16L364.37,240.94L365.35,241.45L366.34,242.36L367.33,243.45L368.32,244.52L369.31,245.62L370.30,246.89L371.28,248.27L372.27,249.69L373.26,251.12L374.25,252.47L375.24,253.71L376.23,254.83L377.21,255.92L378.20,256.98L379.19,258.00L380.18,258.96L381.17,259.87L382.15,260.72L383.14,261.51L384.13,262.28L385.12,263.02L386.11,263.72L387.10,264.37L388.08,264.95L389.07,265.46L390.06,265.90L391.05,266.30L392.04,266.67L393.03,267.03L394.01,267.35L395.00,267.65L395.99,267.93L396.98,268.18L397.97,268.40L398.96,268.59L399.94,268.77L400.93,268.93L401.92,269.09L402.91,269.23L403.90,269.37L404.89,269.49L405.88,269.60L406.86,269.69L407.85,269.76L408.84,269.82L409.83,269.87L410.82,269.92L411.81,269.97L412.79,270.01L413.78,270.05L414.77,270.09L415.76,270.12L416.75,270.15L417.74,270.17L418.72,270.19L419.71,270.20L420.70,270.20" fill="none" stroke="#000" stroke-width="2.2" stroke-linejoin="round"/>
<path d="M420.95,270.01L422.92,269.92L424.89,269.82L426.85,269.72L428.82,269.62L430.79,269.52L432.75,269.41L434.72,269.31L436.69,269.20L438.66,269.09L440.62,268.98L442.59,268.87L444.56,268.75L446.53,268.64L448.50,268.52L450.46,268.39L452.43,268.26L454.40,268.13L456.37,268.00L458.33,267.86L460.30,267.72L462.27,267.58L464.23,267.43L466.20,267.29L468.17,267.14L470.14,266.99L472.11,266.84L474.07,266.69L476.04,266.53L478.01,266.38L479.98,266.23L481.94,266.08L483.91,265.93L485.88,265.77L487.84,265.61L489.81,265.44L491.78,265.28L493.75,265.11L495.72,264.95L497.68,264.78L499.65,264.62L501.62,264.46L503.58,264.31L505.55,264.16L507.52,264.02L509.49,263.89L511.45,263.76L513.42,263.63L515.39,263.51L517.36,263.39L519.33,263.27L521.29,263.16L523.26,263.05L525.23,262.94L527.19,262.83L529.16,262.73L531.13,262.63L533.10,262.53L535.06,262.44L537.03,262.35L539.00,262.27" fill="none" stroke="#F9A66C" stroke-width="2.1" stroke-linejoin="round"/>
<path d="M420.95,270.01L422.92,270.30L424.89,270.57L426.85,270.83L428.82,271.05L430.79,271.26L432.75,271.48L434.72,271.70L436.69,271.90L438.66,272.08L440.62,272.23L442.59,272.32L444.56,272.36L446.53,272.34L448.50,272.31L450.46,272.25L452.43,272.17L454.40,272.07L456.37,271.97L458.33,271.85L460.30,271.73L462.27,271.61L464.23,271.48L466.20,271.34L468.17,271.18L470.14,270.98L472.11,270.78L474.07,270.56L476.04,270.35L478.01,270.16L479.98,269.96L481.94,269.76L483.91,269.56L485.88,269.35L487.84,269.14L489.81,268.94L491.78,268.73L493.75,268.52L495.72,268.32L497.68,268.12L499.65,267.93L501.62,267.74L503.58,267.55L505.55,267.37L507.52,267.20L509.49,267.04L511.45,266.88L513.42,266.73L515.39,266.58L517.36,266.43L519.33,266.29L521.29,266.15L523.26,266.01L525.23,265.88L527.19,265.75L529.16,265.62L531.13,265.50L533.10,265.39L535.06,265.27L537.03,265.16L539.00,265.06" fill="none" stroke="#0A9988" stroke-width="2.4" stroke-linejoin="round"/>
<path d="M302.90,372.30v-2.7M302.90,223.80v2.7M314.70,372.30v-1.15M314.70,223.80v1.15M326.51,372.30v-1.15M326.51,223.80v1.15M338.31,372.30v-1.15M338.31,223.80v1.15M350.12,372.30v-1.15M350.12,223.80v1.15M361.92,372.30v-2.7M361.92,223.80v2.7M373.73,372.30v-1.15M373.73,223.80v1.15M385.53,372.30v-1.15M385.53,223.80v1.15M397.34,372.30v-1.15M397.34,223.80v1.15M409.14,372.30v-1.15M409.14,223.80v1.15M420.95,372.30v-2.7M420.95,223.80v2.7M432.75,372.30v-1.15M432.75,223.80v1.15M444.56,372.30v-1.15M444.56,223.80v1.15M456.37,372.30v-1.15M456.37,223.80v1.15M468.17,372.30v-1.15M468.17,223.80v1.15M479.98,372.30v-2.7M479.98,223.80v2.7M491.78,372.30v-1.15M491.78,223.80v1.15M503.58,372.30v-1.15M503.58,223.80v1.15M515.39,372.30v-1.15M515.39,223.80v1.15M527.19,372.30v-1.15M527.19,223.80v1.15M539.00,372.30v-2.7M539.00,223.80v2.7M300.50,365.30h2.8M541.20,365.30h-2.8M300.50,356.29h1.6M541.20,356.29h-1.6M300.50,347.28h1.6M541.20,347.28h-1.6M300.50,338.27h1.6M541.20,338.27h-1.6M300.50,329.26h2.8M541.20,329.26h-2.8M300.50,320.25h1.6M541.20,320.25h-1.6M300.50,311.24h1.6M541.20,311.24h-1.6M300.50,302.23h1.6M541.20,302.23h-1.6M300.50,293.22h2.8M541.20,293.22h-2.8M300.50,284.21h1.6M541.20,284.21h-1.6M300.50,275.20h1.6M541.20,275.20h-1.6M300.50,266.19h1.6M541.20,266.19h-1.6M300.50,257.18h2.8M541.20,257.18h-2.8M300.50,248.17h1.6M541.20,248.17h-1.6M300.50,239.16h1.6M541.20,239.16h-1.6M300.50,230.15h1.6M541.20,230.15h-1.6" stroke="#5c5c5c" stroke-width="1.0" fill="none"/>
<rect x="300.50" y="223.80" width="240.70" height="148.50" fill="none" stroke="#5c5c5c" stroke-width="1.25"/>
<text class="tk" x="302.90" y="382.70" text-anchor="middle">2000</text>
<text class="tk" x="361.92" y="382.70" text-anchor="middle">2010</text>
<text class="tk" x="420.95" y="382.70" text-anchor="middle">2020</text>
<text class="tk" x="479.98" y="382.70" text-anchor="middle">2030</text>
<text class="tk" x="539.00" y="382.70" text-anchor="middle">2040</text>
<text class="tk" x="298.00" y="368.30" text-anchor="end">0</text>
<text class="tk" x="298.00" y="332.26" text-anchor="end">2</text>
<text class="tk" x="298.00" y="296.22" text-anchor="end">4</text>
<text class="tk" x="298.00" y="260.18" text-anchor="end">6</text>
<text class="al" transform="translate(285.50,298.65) rotate(-90)" text-anchor="middle">Incidence per 100,000</text>
<text class="al" x="420.35" y="398.00" text-anchor="middle">Year</text>
<text class="pt" x="420.75" y="221.10" text-anchor="middle">(d) IPD Incidence | 5–64</text>
<path d="M31.40,433.91L35.27,433.76L39.13,433.61L43.00,433.45L46.87,433.29L50.73,433.13L54.60,432.96L58.47,432.79L62.33,432.62L66.20,432.44L70.07,432.26L73.93,432.08L77.80,431.90L81.67,431.72L85.53,431.54L89.40,431.36L93.27,431.19L97.13,431.02L101.00,430.86L104.87,430.69L108.73,430.53L112.60,430.37L116.47,430.20L120.33,430.04L124.20,429.89L128.07,429.73L131.93,429.57L135.80,429.42L139.67,429.26L143.53,429.11L147.40,428.96L151.27,428.81L155.13,428.66L159.00,428.51L162.87,428.36L166.73,428.20L170.60,428.05L174.47,427.90L178.33,427.76L182.20,427.61L186.07,427.47L189.93,427.33L193.80,427.20L197.67,427.08L201.53,426.96L205.40,426.84L209.27,426.73L213.13,426.62L217.00,426.51L220.87,426.40L224.73,426.30L228.60,426.20L232.47,426.10L236.33,426.00L240.20,425.91L244.07,425.82L247.93,425.73L251.80,425.65L255.67,425.57L259.53,425.49L263.40,425.42" fill="none" stroke="#F9A66C" stroke-width="2.0" stroke-linejoin="round"/>
<path d="M31.40,433.91L35.27,434.07L39.13,434.41L43.00,435.07L46.87,435.94L50.73,436.61L54.60,437.19L58.47,437.70L62.33,438.12L66.20,438.49L70.07,438.80L73.93,439.02L77.80,439.20L81.67,439.36L85.53,439.49L89.40,439.58L93.27,439.65L97.13,439.70L101.00,439.75L104.87,439.78L108.73,439.79L112.60,439.76L116.47,439.69L120.33,439.60L124.20,439.49L128.07,439.39L131.93,439.29L135.80,439.18L139.67,439.07L143.53,438.94L147.40,438.82L151.27,438.70L155.13,438.59L159.00,438.49L162.87,438.39L166.73,438.29L170.60,438.19L174.47,438.10L178.33,438.01L182.20,437.92L186.07,437.83L189.93,437.74L193.80,437.66L197.67,437.57L201.53,437.49L205.40,437.41L209.27,437.32L213.13,437.24L217.00,437.17L220.87,437.09L224.73,437.01L228.60,436.93L232.47,436.86L236.33,436.78L240.20,436.71L244.07,436.64L247.93,436.57L251.80,436.50L255.67,436.43L259.53,436.37L263.40,436.30" fill="none" stroke="#0A9988" stroke-width="2.4" stroke-linejoin="round"/>
<path d="M31.40,564.20v-2.7M31.40,418.60v2.7M43.00,564.20v-1.15M43.00,418.60v1.15M54.60,564.20v-1.15M54.60,418.60v1.15M66.20,564.20v-1.15M66.20,418.60v1.15M77.80,564.20v-1.15M77.80,418.60v1.15M89.40,564.20v-2.7M89.40,418.60v2.7M101.00,564.20v-1.15M101.00,418.60v1.15M112.60,564.20v-1.15M112.60,418.60v1.15M124.20,564.20v-1.15M124.20,418.60v1.15M135.80,564.20v-1.15M135.80,418.60v1.15M147.40,564.20v-2.7M147.40,418.60v2.7M159.00,564.20v-1.15M159.00,418.60v1.15M170.60,564.20v-1.15M170.60,418.60v1.15M182.20,564.20v-1.15M182.20,418.60v1.15M193.80,564.20v-1.15M193.80,418.60v1.15M205.40,564.20v-2.7M205.40,418.60v2.7M217.00,564.20v-1.15M217.00,418.60v1.15M228.60,564.20v-1.15M228.60,418.60v1.15M240.20,564.20v-1.15M240.20,418.60v1.15M251.80,564.20v-1.15M251.80,418.60v1.15M263.40,564.20v-2.7M263.40,418.60v2.7M29.60,561.45h1.6M265.20,561.45h-1.6M29.60,557.10h2.8M265.20,557.10h-2.8M29.60,552.75h1.6M265.20,552.75h-1.6M29.60,548.39h1.6M265.20,548.39h-1.6M29.60,544.04h1.6M265.20,544.04h-1.6M29.60,539.69h1.6M265.20,539.69h-1.6M29.60,535.34h2.8M265.20,535.34h-2.8M29.60,530.98h1.6M265.20,530.98h-1.6M29.60,526.63h1.6M265.20,526.63h-1.6M29.60,522.28h1.6M265.20,522.28h-1.6M29.60,517.92h1.6M265.20,517.92h-1.6M29.60,513.57h2.8M265.20,513.57h-2.8M29.60,509.22h1.6M265.20,509.22h-1.6M29.60,504.86h1.6M265.20,504.86h-1.6M29.60,500.51h1.6M265.20,500.51h-1.6M29.60,496.16h1.6M265.20,496.16h-1.6M29.60,491.81h2.8M265.20,491.81h-2.8M29.60,487.45h1.6M265.20,487.45h-1.6M29.60,483.10h1.6M265.20,483.10h-1.6M29.60,478.75h1.6M265.20,478.75h-1.6M29.60,474.39h1.6M265.20,474.39h-1.6M29.60,470.04h2.8M265.20,470.04h-2.8M29.60,465.69h1.6M265.20,465.69h-1.6M29.60,461.33h1.6M265.20,461.33h-1.6M29.60,456.98h1.6M265.20,456.98h-1.6M29.60,452.63h1.6M265.20,452.63h-1.6M29.60,448.28h2.8M265.20,448.28h-2.8M29.60,443.92h1.6M265.20,443.92h-1.6M29.60,439.57h1.6M265.20,439.57h-1.6M29.60,435.22h1.6M265.20,435.22h-1.6M29.60,430.86h1.6M265.20,430.86h-1.6M29.60,426.51h2.8M265.20,426.51h-2.8M29.60,422.16h1.6M265.20,422.16h-1.6" stroke="#5c5c5c" stroke-width="1.0" fill="none"/>
<rect x="29.60" y="418.60" width="235.60" height="145.60" fill="none" stroke="#5c5c5c" stroke-width="1.25"/>
<text class="tk" x="31.40" y="574.80" text-anchor="middle">2020</text>
<text class="tk" x="89.40" y="574.80" text-anchor="middle">2025</text>
<text class="tk" x="147.40" y="574.80" text-anchor="middle">2030</text>
<text class="tk" x="205.40" y="574.80" text-anchor="middle">2035</text>
<text class="tk" x="263.40" y="574.80" text-anchor="middle">2040</text>
<text class="tk" x="27.10" y="560.10" text-anchor="end">0</text>
<text class="tk" x="27.10" y="538.34" text-anchor="end">5</text>
<text class="tk" x="27.10" y="516.57" text-anchor="end">10</text>
<text class="tk" x="27.10" y="494.81" text-anchor="end">15</text>
<text class="tk" x="27.10" y="473.04" text-anchor="end">20</text>
<text class="tk" x="27.10" y="451.28" text-anchor="end">25</text>
<text class="tk" x="27.10" y="429.51" text-anchor="end">30</text>
<text class="al" transform="translate(10.00,492.00) rotate(-90)" text-anchor="middle">Incidence per 100,000</text>
<text class="al" x="146.90" y="589.80" text-anchor="middle">Year</text>
<text class="pt" x="147.20" y="415.60" text-anchor="middle">(e) IPD Incidence | ≥65</text>
<path d="M346.48,418.60V564.10" stroke="#dadada" stroke-width="0.8" fill="none"/>
<path d="M366.75,418.60V564.10" stroke="#dadada" stroke-width="0.8" fill="none"/>
<path d="M423.20,418.60V564.10" stroke="#dadada" stroke-width="0.8" fill="none"/>
<path d="M307.10,425.60L308.07,425.85L309.04,426.30L310.00,426.87L310.97,427.74L311.94,428.94L312.91,430.28L313.87,431.60L314.84,432.77L315.81,433.93L316.78,435.08L317.74,436.21L318.71,437.29L319.68,438.34L320.65,439.38L321.61,440.38L322.58,441.31L323.55,442.16L324.52,442.93L325.48,443.66L326.45,444.37L327.42,445.03L328.38,445.64L329.35,446.21L330.32,446.72L331.29,447.17L332.25,447.61L333.22,448.01L334.19,448.39L335.16,448.74L336.12,449.05L337.09,449.33L338.06,449.56L339.03,449.79L340.00,450.01L340.96,450.21L341.93,450.37L342.90,450.47L343.87,450.49L344.83,450.22L345.80,449.75L346.77,449.37L347.74,449.34L348.70,449.65L349.67,450.18L350.64,450.80L351.61,451.59L352.57,452.75L353.54,454.08L354.51,455.33L355.48,456.31L356.44,457.01L357.41,457.69L358.38,458.22L359.35,458.49L360.31,458.40L361.28,458.00L362.25,457.42L363.22,456.77L364.18,456.14L365.15,455.29L366.12,454.32L367.08,453.45L368.05,452.90L369.02,452.81L369.99,452.88L370.95,453.02L371.92,453.20L372.89,453.41L373.86,453.65L374.82,454.02L375.79,454.49L376.76,455.03L377.73,455.61L378.69,456.19L379.66,456.73L380.63,457.21L381.60,457.67L382.56,458.13L383.53,458.59L384.50,459.05L385.47,459.49L386.44,459.91L387.40,460.30L388.37,460.66L389.34,460.97L390.31,461.24L391.27,461.49L392.24,461.74L393.21,461.97L394.18,462.19L395.14,462.40L396.11,462.58L397.08,462.74L398.04,462.87L399.01,462.97L399.98,463.06L400.95,463.13L401.91,463.21L402.88,463.28L403.85,463.34L404.82,463.39L405.78,463.44L406.75,463.47L407.72,463.49L408.69,463.50L409.65,463.50L410.62,463.50L411.59,463.49L412.56,463.48L413.52,463.46L414.49,463.45L415.46,463.42L416.43,463.39L417.39,463.36L418.36,463.32L419.33,463.27L420.30,463.21L421.26,463.15L422.23,463.08L423.20,463.00" fill="none" stroke="#000" stroke-width="2.2" stroke-linejoin="round"/>
<path d="M423.20,462.78L425.13,462.66L427.06,462.54L428.99,462.43L430.92,462.30L432.85,462.18L434.78,462.05L436.71,461.92L438.64,461.78L440.57,461.65L442.50,461.51L444.43,461.37L446.36,461.23L448.29,461.10L450.22,460.96L452.15,460.82L454.08,460.69L456.01,460.57L457.94,460.44L459.87,460.31L461.80,460.19L463.73,460.06L465.66,459.94L467.59,459.82L469.52,459.69L471.45,459.57L473.38,459.45L475.31,459.34L477.24,459.22L479.17,459.10L481.10,458.98L483.03,458.87L484.96,458.75L486.89,458.64L488.82,458.52L490.75,458.41L492.68,458.29L494.61,458.18L496.54,458.06L498.47,457.95L500.40,457.85L502.33,457.74L504.26,457.64L506.19,457.54L508.12,457.45L510.05,457.36L511.98,457.28L513.91,457.19L515.84,457.11L517.77,457.03L519.70,456.95L521.63,456.87L523.56,456.79L525.49,456.72L527.42,456.65L529.35,456.58L531.28,456.51L533.21,456.45L535.14,456.39L537.07,456.33L539.00,456.28" fill="none" stroke="#F9A66C" stroke-width="2.0" stroke-linejoin="round"/>
<path d="M423.20,462.78L425.13,462.90L427.06,463.16L428.99,463.66L430.92,464.33L432.85,464.85L434.78,465.29L436.71,465.68L438.64,466.00L440.57,466.29L442.50,466.52L444.43,466.69L446.36,466.83L448.29,466.95L450.22,467.04L452.15,467.12L454.08,467.17L456.01,467.21L457.94,467.25L459.87,467.27L461.80,467.27L463.73,467.25L465.66,467.20L467.59,467.13L469.52,467.05L471.45,466.97L473.38,466.89L475.31,466.81L477.24,466.72L479.17,466.63L481.10,466.53L483.03,466.44L484.96,466.36L486.89,466.28L488.82,466.20L490.75,466.13L492.68,466.06L494.61,465.98L496.54,465.91L498.47,465.84L500.40,465.78L502.33,465.71L504.26,465.64L506.19,465.58L508.12,465.52L510.05,465.45L511.98,465.39L513.91,465.33L515.84,465.27L517.77,465.21L519.70,465.15L521.63,465.09L523.56,465.03L525.49,464.98L527.42,464.92L529.35,464.87L531.28,464.81L533.21,464.76L535.14,464.71L537.07,464.66L539.00,464.61" fill="none" stroke="#0A9988" stroke-width="2.2" stroke-linejoin="round"/>
<path d="M307.40,564.10v-2.7M307.40,418.60v2.7M318.98,564.10v-1.15M318.98,418.60v1.15M330.56,564.10v-1.15M330.56,418.60v1.15M342.14,564.10v-1.15M342.14,418.60v1.15M353.72,564.10v-1.15M353.72,418.60v1.15M365.30,564.10v-2.7M365.30,418.60v2.7M376.88,564.10v-1.15M376.88,418.60v1.15M388.46,564.10v-1.15M388.46,418.60v1.15M400.04,564.10v-1.15M400.04,418.60v1.15M411.62,564.10v-1.15M411.62,418.60v1.15M423.20,564.10v-2.7M423.20,418.60v2.7M434.78,564.10v-1.15M434.78,418.60v1.15M446.36,564.10v-1.15M446.36,418.60v1.15M457.94,564.10v-1.15M457.94,418.60v1.15M469.52,564.10v-1.15M469.52,418.60v1.15M481.10,564.10v-2.7M481.10,418.60v2.7M492.68,564.10v-1.15M492.68,418.60v1.15M504.26,564.10v-1.15M504.26,418.60v1.15M515.84,564.10v-1.15M515.84,418.60v1.15M527.42,564.10v-1.15M527.42,418.60v1.15M539.00,564.10v-2.7M539.00,418.60v2.7M305.30,557.10h2.8M541.20,557.10h-2.8M305.30,550.43h1.6M541.20,550.43h-1.6M305.30,543.77h1.6M541.20,543.77h-1.6M305.30,537.10h1.6M541.20,537.10h-1.6M305.30,530.44h1.6M541.20,530.44h-1.6M305.30,523.77h2.8M541.20,523.77h-2.8M305.30,517.10h1.6M541.20,517.10h-1.6M305.30,510.44h1.6M541.20,510.44h-1.6M305.30,503.77h1.6M541.20,503.77h-1.6M305.30,497.11h1.6M541.20,497.11h-1.6M305.30,490.44h2.8M541.20,490.44h-2.8M305.30,483.77h1.6M541.20,483.77h-1.6M305.30,477.11h1.6M541.20,477.11h-1.6M305.30,470.44h1.6M541.20,470.44h-1.6M305.30,463.78h1.6M541.20,463.78h-1.6M305.30,457.11h2.8M541.20,457.11h-2.8M305.30,450.44h1.6M541.20,450.44h-1.6M305.30,443.78h1.6M541.20,443.78h-1.6M305.30,437.11h1.6M541.20,437.11h-1.6M305.30,430.45h1.6M541.20,430.45h-1.6M305.30,423.78h2.8M541.20,423.78h-2.8" stroke="#5c5c5c" stroke-width="1.0" fill="none"/>
<rect x="305.30" y="418.60" width="235.90" height="145.50" fill="none" stroke="#5c5c5c" stroke-width="1.25"/>
<text class="tk" x="307.40" y="574.50" text-anchor="middle">2000</text>
<text class="tk" x="365.30" y="574.50" text-anchor="middle">2010</text>
<text class="tk" x="423.20" y="574.50" text-anchor="middle">2020</text>
<text class="tk" x="481.10" y="574.50" text-anchor="middle">2030</text>
<text class="tk" x="539.00" y="574.50" text-anchor="middle">2040</text>
<text class="tk" x="302.80" y="560.10" text-anchor="end">0</text>
<text class="tk" x="302.80" y="526.77" text-anchor="end">10</text>
<text class="tk" x="302.80" y="493.44" text-anchor="end">20</text>
<text class="tk" x="302.80" y="460.11" text-anchor="end">30</text>
<text class="tk" x="302.80" y="426.78" text-anchor="end">40</text>
<text class="al" transform="translate(285.50,491.95) rotate(-90)" text-anchor="middle">Incidence per 100,000</text>
<text class="al" x="422.75" y="589.50" text-anchor="middle">Year</text>
<text class="pt" x="423.05" y="415.60" text-anchor="middle">(f) IPD Incidence | ≥65</text>
<path d="M164.5,607.40H199.1" stroke="#000" stroke-width="1.5" fill="none"/>
<text class="lg" x="206.0" y="611.90">Calibration Period</text>
<path d="M164.5,628.50H199.1" stroke="#F9A66C" stroke-width="1.4" fill="none"/>
<text class="lg" x="206.0" y="632.90">Scenario PCV13 – 5.0% Quantile</text>
<path d="M164.5,649.80H199.1" stroke="#F9A66C" stroke-width="1.4" fill="none"/>
<text class="lg" x="206.0" y="653.80">Scenario PCV13 – 95.0% Quantile</text>
<path d="M164.5,670.80H199.1" stroke="#F9A66C" stroke-width="1.4" fill="none" stroke-dasharray="3.8 2.7"/>
<text class="lg" x="206.0" y="674.80">Scenario PCV13 – Mean</text>
<path d="M164.5,692.00H199.1" stroke="#0A9988" stroke-width="1.9" fill="none"/>
<text class="lg" x="206.0" y="696.00">Scenario PCV15 – 5.0% Quantile</text>
<path d="M164.5,713.10H199.1" stroke="#0A9988" stroke-width="1.9" fill="none"/>
<text class="lg" x="206.0" y="717.00">Scenario PCV15 – 95.0% Quantile</text>
<path d="M164.5,734.40H199.1" stroke="#0A9988" stroke-width="1.9" fill="none" stroke-dasharray="3.8 2.7"/>
<text class="lg" x="206.0" y="738.40">Scenario PCV15 – Mean</text>
</svg>
</body></html>
